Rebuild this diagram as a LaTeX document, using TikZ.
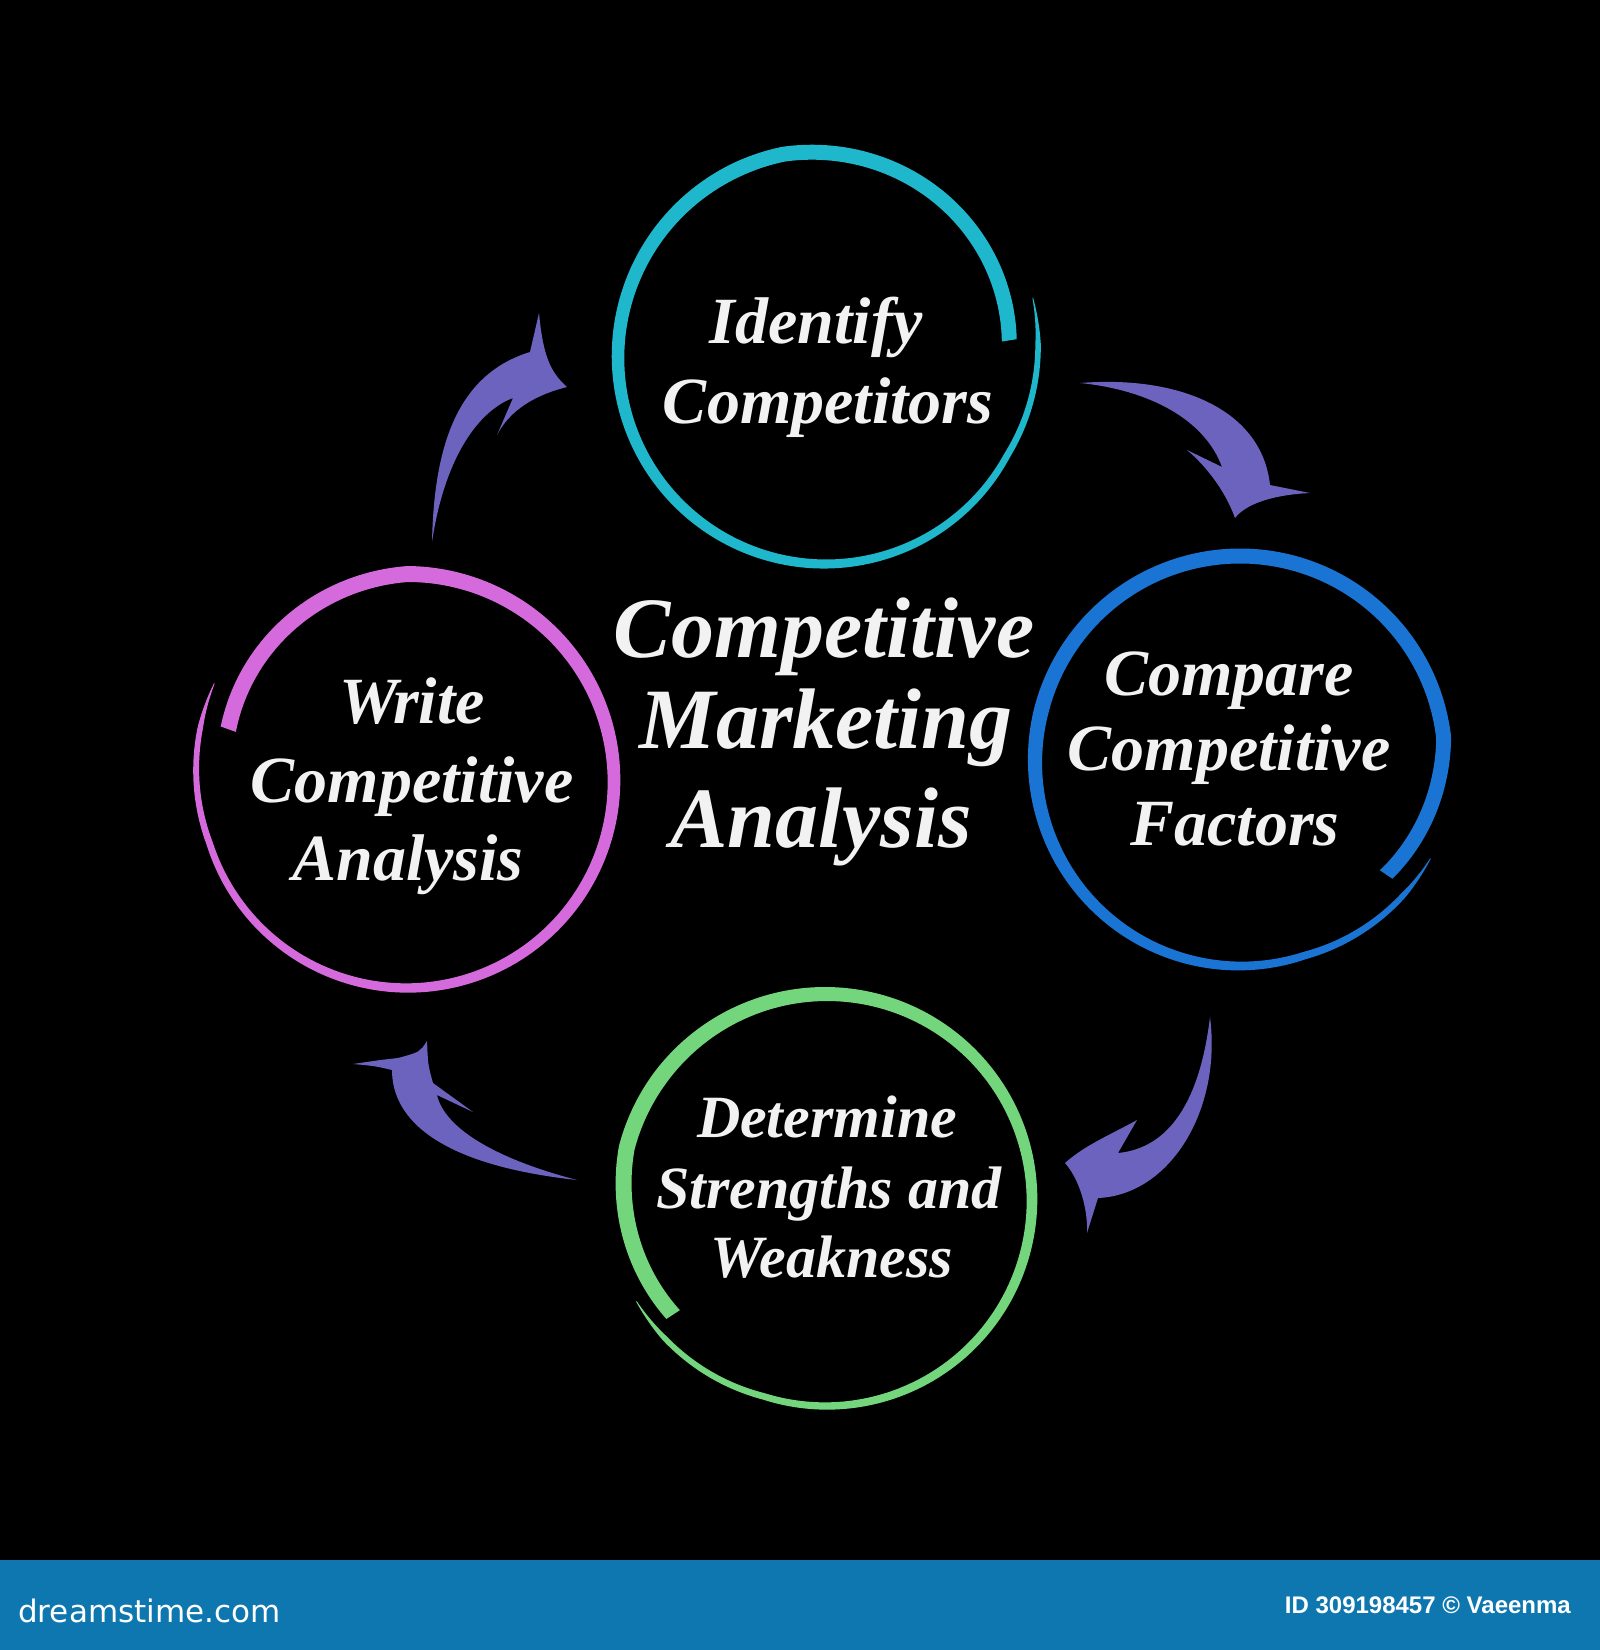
\documentclass[tikz,border=0pt]{standalone}
\usepackage{fontspec}
\setmainfont{Liberation Serif}
\newfontfamily\logofont{DejaVu Sans}
\newfontfamily\idfont{Liberation Sans}
\definecolor{ringcyan}{RGB}{31,183,204}
\definecolor{ringblue}{RGB}{26,116,212}
\definecolor{ringgreen}{RGB}{116,214,124}
\definecolor{ringmag}{RGB}{212,106,219}
\definecolor{arrowpurple}{RGB}{108,99,190}
\definecolor{txtwhite}{RGB}{242,242,242}
\definecolor{barblue}{RGB}{14,119,176}
\def\ringramp{0.7}
\def\ringshrink{0.72}
\newcommand\brushring[9]{%
 \def\brR{(#3+9*max(0,1-\rt/0.12)+(#8)*max(0,(\rt-\ringshrink)/(1-\ringshrink)))}%
 \def\brW{(0.5*(#6+(#7-(#6))*min(1,\rt/\ringramp))*min(1,0.15+\rt/0.04))}%
 \def\brA{(#4+(#5-(#4))*\rt)}%
 \fill[#9] plot[domain=0:1,samples=300,variable=\rt] ({#1+(\brR+\brW)*cos(\brA)},{#2+(\brR+\brW)*sin(\brA)})
   -- plot[domain=1:0,samples=300,variable=\rt] ({#1+(\brR-\brW)*cos(\brA)},{#2+(\brR-\brW)*sin(\brA)}) -- cycle;}
\begin{document}
\begin{tikzpicture}[x=1pt,y=-1pt,
  lblA/.style={text=txtwhite,inner sep=0pt,anchor=base,font=\fontsize{66}{70}\selectfont\bfseries\itshape},
  lblB/.style={text=txtwhite,inner sep=0pt,anchor=base,font=\fontsize{60}{64}\selectfont\bfseries\itshape},
  ttl/.style={text=txtwhite,inner sep=0pt,anchor=base,font=\fontsize{86}{92}\selectfont\bfseries\itshape},
  swoosh/.style={fill=arrowpurple}]
\useasboundingbox (0,0) rectangle (1600,1650);
\fill[black] (0,0) rectangle (1600,1650);
\fill[barblue] (0,1560) rectangle (1600,1650);

% rings
\def\ringramp{0.7}\def\ringshrink{0.74}
\brushring{825}{357}{207}{-16}{355}{5}{15}{-22}{ringcyan}
\def\ringramp{0.45}\def\ringshrink{0.88}
\brushring{1240}{761}{205}{27}{398}{5}{15}{-20}{ringblue}
\def\ringramp{0.8}\def\ringshrink{0.86}
\brushring{826}{1200}{206}{152}{-217}{5}{16}{-15}{ringgreen}
\def\ringramp{0.8}\def\ringshrink{0.8}
\brushring{407}{781}{207}{207}{-164}{5}{16}{-21}{ringmag}

% arrows
\fill[swoosh] (432,542) .. controls (434,450) and (455,375) .. (530,352)
  -- (539,313) .. controls (543,355) and (550,372) .. (567,387)
  .. controls (535,395) and (510,410) .. (497,435)
  -- (513,398) .. controls (480,410) and (445,455) .. (432,542) -- cycle;
\fill[swoosh] (1080,383) .. controls (1180,375) and (1262,410) .. (1270,485)
  -- (1310,493) .. controls (1270,495) and (1245,505) .. (1235,518)
  .. controls (1225,490) and (1205,465) .. (1187,450)
  -- (1222,467) .. controls (1205,420) and (1150,390) .. (1080,383) -- cycle;
\fill[swoosh] (1210,1017) .. controls (1200,1100) and (1170,1148) .. (1118,1153)
  -- (1137,1120) .. controls (1110,1135) and (1085,1145) .. (1065,1163)
  .. controls (1080,1180) and (1088,1210) .. (1087,1233)
  -- (1098,1198) .. controls (1170,1195) and (1222,1110) .. (1210,1017) -- cycle;
\fill[swoosh] (577,1180) .. controls (500,1160) and (445,1130) .. (437,1095)
  -- (473,1112) -- (433,1083) .. controls (428,1065) .. (427,1041)
  .. controls (420,1052) .. (398,1058) .. controls (380,1060) .. (353,1064)
  .. controls (375,1066) .. (392,1070)
  .. controls (392,1120) and (440,1165) .. (577,1180) -- cycle;

% title
\node[ttl] (title1) at (824,657) {Competitive};
\node[ttl] (title2) at (826,748) {Marketing};
\node[ttl] (title3) at (821,847) {Analysis};

% labels
\node[lblA] (c1a) at (816,343) {Identify};
\node[lblA] (c1b) at (828,423) {Competitors};
\node[lblA] (c2a) at (1229,695) {Compare};
\node[lblA] (c2b) at (1229,770) {Competitive};
\node[lblA] (c2c) at (1235,845) {Factors};
\node[lblB] (c3a) at (827,1137) {Determine};
\node[lblB] (c3b) at (829,1208) {Strengths and};
\node[lblB] (c3c) at (832,1277) {Weakness};
\node[lblA] (c4a) at (412,723) {Write};
\node[lblA] (c4b) at (412,802) {Competitive};
\node[lblA] (c4c) at (408,880) {Analysis};

% footer
\node[text=white,inner sep=0pt,anchor=base west,font=\fontsize{31}{34}\selectfont\logofont] (logo) at (18,1622) {dreamstime.com};
\node[text=white,inner sep=0pt,anchor=base east,font=\fontsize{24}{28}\selectfont\idfont\bfseries] (idtxt) at (1571,1613) {ID 309198457 © Vaeenma};
\end{tikzpicture}
\end{document}
